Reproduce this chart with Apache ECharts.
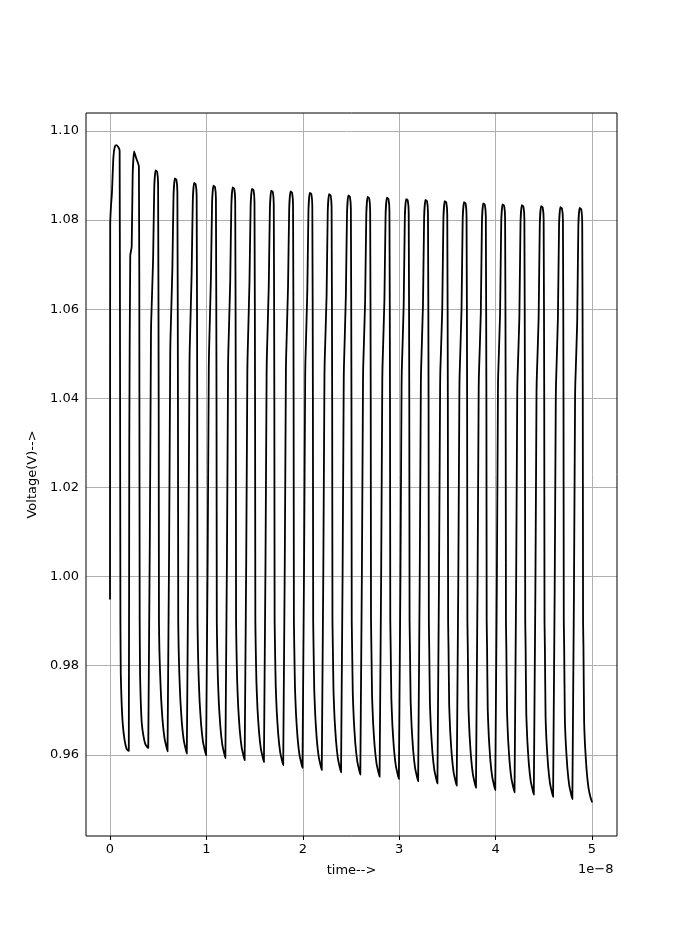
<!DOCTYPE html>
<html><head><meta charset="utf-8">
<script src="https://cdn.jsdelivr.net/npm/echarts@6/dist/echarts.min.js"></script>
<style>html,body{margin:0;background:#fff}#c{width:685px;height:939px}</style>
</head><body><div id="c"></div>
<script>
// time in ns, voltage in V (cycle by cycle)
const timeNs = [
0,0.02,0.1,0.2,0.35,0.5,0.65,0.9,1.0,1.04,1.08,1.12,1.2,1.32,1.5,1.7,1.85,
1.95,2.0,2.1,2.25,2.35,2.5,2.7,3.0,3.05,3.08,3.12,3.19,3.3,3.45,3.65,3.85,
3.97,4.25,4.27,4.47,4.59,4.72,4.89,4.99,5.05,5.08,5.12,5.19,5.30,5.45,5.65,5.85,
5.97,6.25,6.27,6.47,6.59,6.72,6.89,6.99,7.05,7.08,7.12,7.19,7.30,7.45,7.65,7.85,
7.97,8.25,8.27,8.47,8.59,8.72,8.89,8.99,9.05,9.08,9.12,9.19,9.30,9.45,9.65,9.85,
9.97,10.25,10.27,10.47,10.59,10.72,10.89,10.99,11.05,11.08,11.12,11.19,11.30,11.45,11.65,11.85,
11.97,12.25,12.27,12.47,12.59,12.72,12.89,12.99,13.05,13.08,13.12,13.19,13.30,13.45,13.65,13.85,
13.97,14.25,14.27,14.47,14.59,14.72,14.89,14.99,15.05,15.08,15.12,15.19,15.30,15.45,15.65,15.85,
15.97,16.25,16.27,16.47,16.59,16.72,16.89,16.99,17.05,17.08,17.12,17.19,17.30,17.45,17.65,17.85,
17.97,18.25,18.27,18.47,18.59,18.72,18.89,18.99,19.05,19.08,19.12,19.19,19.30,19.45,19.65,19.85,
19.97,20.25,20.27,20.47,20.59,20.72,20.89,20.99,21.05,21.08,21.12,21.19,21.30,21.45,21.65,21.85,
21.97,22.25,22.27,22.47,22.59,22.72,22.89,22.99,23.05,23.08,23.12,23.19,23.30,23.45,23.65,23.85,
23.97,24.25,24.27,24.47,24.59,24.72,24.89,24.99,25.05,25.08,25.12,25.19,25.30,25.45,25.65,25.85,
25.97,26.25,26.27,26.47,26.59,26.72,26.89,26.99,27.05,27.08,27.12,27.19,27.30,27.45,27.65,27.85,
27.97,28.25,28.27,28.47,28.59,28.72,28.89,28.99,29.05,29.08,29.12,29.19,29.30,29.45,29.65,29.85,
29.97,30.25,30.27,30.47,30.59,30.72,30.89,30.99,31.05,31.08,31.12,31.19,31.30,31.45,31.65,31.85,
31.97,32.25,32.27,32.47,32.59,32.72,32.89,32.99,33.05,33.08,33.12,33.19,33.30,33.45,33.65,33.85,
33.97,34.25,34.27,34.47,34.59,34.72,34.89,34.99,35.05,35.08,35.12,35.19,35.30,35.45,35.65,35.85,
35.97,36.25,36.27,36.47,36.59,36.72,36.89,36.99,37.05,37.08,37.12,37.19,37.30,37.45,37.65,37.85,
37.97,38.25,38.27,38.47,38.59,38.72,38.89,38.99,39.05,39.08,39.12,39.19,39.30,39.45,39.65,39.85,
39.97,40.25,40.27,40.47,40.59,40.72,40.89,40.99,41.05,41.08,41.12,41.19,41.30,41.45,41.65,41.85,
41.97,42.25,42.27,42.47,42.59,42.72,42.89,42.99,43.05,43.08,43.12,43.19,43.30,43.45,43.65,43.85,
43.97,44.25,44.27,44.47,44.59,44.72,44.89,44.99,45.05,45.08,45.12,45.19,45.30,45.45,45.65,45.85,
45.97,46.25,46.27,46.47,46.59,46.72,46.89,46.99,47.05,47.08,47.12,47.19,47.30,47.45,47.65,47.85,
47.97,48.25,48.27,48.47,48.59,48.72,48.89,48.99,49.05,49.08,49.12,49.19,49.30,49.45,49.65,49.85,50.0
];
const voltage = [
0.995,1.079,1.083,1.086,1.094,1.0965,1.0968,1.0962,1.0955,1.05,0.99,0.978,0.972,0.967,0.9635,0.9615,0.961,
0.9609,1.03,1.072,1.074,1.09,1.0954,1.094,1.092,1.04,0.99,0.978,0.972,0.967,0.9645,0.9625,0.9618,
0.9616,1.054,1.057,1.071,1.0871,1.0911,1.0908,1.0881,1.04,0.99,0.984,0.9788,0.9728,0.9678,0.9638,0.9618,
0.9608,1.050,1.053,1.069,1.0853,1.0893,1.0890,1.0863,1.04,0.99,0.984,0.9783,0.9723,0.9673,0.9633,0.9613,
0.9603,1.048,1.051,1.068,1.0843,1.0883,1.0880,1.0853,1.04,0.99,0.984,0.9779,0.9719,0.9669,0.9629,0.9609,
0.9599,1.047,1.050,1.067,1.0837,1.0877,1.0874,1.0847,1.04,0.99,0.984,0.9773,0.9713,0.9663,0.9623,0.9603,
0.9593,1.047,1.050,1.066,1.0833,1.0873,1.0870,1.0843,1.04,0.99,0.984,0.9768,0.9708,0.9658,0.9618,0.9598,
0.9588,1.046,1.049,1.066,1.0830,1.0870,1.0867,1.0840,1.04,0.99,0.984,0.9764,0.9704,0.9654,0.9614,0.9594,
0.9584,1.046,1.049,1.065,1.0826,1.0866,1.0863,1.0836,1.04,0.99,0.984,0.9757,0.9697,0.9647,0.9607,0.9587,
0.9577,1.046,1.049,1.065,1.0824,1.0864,1.0861,1.0834,1.04,0.99,0.984,0.9751,0.9691,0.9641,0.9601,0.9581,
0.9571,1.045,1.048,1.064,1.0821,1.0861,1.0858,1.0831,1.04,0.99,0.984,0.9746,0.9686,0.9636,0.9596,0.9576,
0.9566,1.045,1.048,1.063,1.0818,1.0858,1.0855,1.0828,1.04,0.99,0.984,0.9741,0.9681,0.9631,0.9591,0.9571,
0.9561,1.044,1.047,1.063,1.0815,1.0855,1.0852,1.0825,1.04,0.99,0.984,0.9736,0.9676,0.9626,0.9586,0.9566,
0.9556,1.044,1.047,1.062,1.0812,1.0852,1.0849,1.0822,1.04,0.99,0.984,0.9731,0.9671,0.9621,0.9581,0.9561,
0.9551,1.044,1.047,1.062,1.0810,1.0850,1.0847,1.0820,1.04,0.99,0.984,0.9726,0.9666,0.9616,0.9576,0.9556,
0.9546,1.043,1.046,1.061,1.0807,1.0847,1.0844,1.0817,1.04,0.99,0.984,0.9721,0.9661,0.9611,0.9571,0.9551,
0.9541,1.043,1.046,1.061,1.0805,1.0845,1.0842,1.0815,1.04,0.99,0.984,0.9716,0.9656,0.9606,0.9566,0.9546,
0.9536,1.043,1.046,1.060,1.0802,1.0842,1.0839,1.0812,1.04,0.99,0.984,0.9711,0.9651,0.9601,0.9561,0.9541,
0.9531,1.042,1.045,1.060,1.0800,1.0840,1.0837,1.0810,1.04,0.99,0.984,0.9706,0.9646,0.9596,0.9556,0.9536,
0.9526,1.042,1.045,1.059,1.0797,1.0837,1.0834,1.0807,1.04,0.99,0.984,0.9701,0.9641,0.9591,0.9551,0.9531,
0.9521,1.042,1.045,1.059,1.0795,1.0835,1.0832,1.0805,1.04,0.99,0.984,0.9696,0.9636,0.9586,0.9546,0.9526,
0.9516,1.041,1.044,1.058,1.0793,1.0833,1.0830,1.0803,1.04,0.99,0.984,0.9691,0.9631,0.9581,0.9541,0.9521,
0.9511,1.041,1.044,1.058,1.0791,1.0831,1.0828,1.0801,1.04,0.99,0.984,0.9686,0.9626,0.9576,0.9536,0.9516,
0.9506,1.040,1.043,1.058,1.0789,1.0829,1.0826,1.0799,1.04,0.99,0.984,0.9681,0.9621,0.9571,0.9531,0.9511,
0.9501,1.040,1.043,1.057,1.0787,1.0827,1.0824,1.0797,1.04,0.99,0.984,0.9675,0.9615,0.9565,0.9525,0.9505,0.9495
];
const xTicks = [0,1,2,3,4,5];
const yTicks = [0.96,0.98,1.00,1.02,1.04,1.06,1.08,1.10];

const data = timeNs.map((t,i)=>[t/10, voltage[i]]);
const font = 'DejaVu Sans';
const chart = echarts.init(document.getElementById('c'));
const gridLine = {color:'#b0b0b0', width:1, type:'solid'};
chart.setOption({
  animation:false,
  grid:{left:86,right:68,top:113,bottom:103,containLabel:false},
  xAxis:{type:'value',min:-0.249,max:5.26,
    axisLine:{show:false},
    axisTick:{show:true,customValues:xTicks,length:4,lineStyle:{color:'#000'}},
    axisLabel:{customValues:xTicks,formatter:v=>String(Math.round(v)),color:'#000',fontFamily:font,fontSize:13,margin:7},
    splitLine:{show:false},
    name:'time-->',nameLocation:'middle',nameGap:28,nameTextStyle:{color:'#000',fontFamily:font,fontSize:13}},
  yAxis:{type:'value',min:0.9418,max:1.104,
    axisLine:{show:false},
    axisTick:{show:true,customValues:yTicks,length:4,lineStyle:{color:'#000'}},
    axisLabel:{customValues:yTicks,formatter:v=>v.toFixed(2),color:'#000',fontFamily:font,fontSize:13,margin:7},
    splitLine:{show:false},
    name:'Voltage(V)-->',nameLocation:'middle',nameGap:47,nameTextStyle:{color:'#000',fontFamily:font,fontSize:13}},
  graphic:[
    {type:'rect',shape:{x:86,y:113,width:531,height:723},style:{fill:'none',stroke:'#000',lineWidth:1},z:100},
    {type:'text',left:578,top:863,style:{text:'1e\u22128',fontFamily:font,fontSize:13,fill:'#000'}}
  ],
  series:[
    {type:'line',data:[],z:1,silent:true,
      markLine:{silent:true,symbol:'none',label:{show:false},lineStyle:gridLine,
        data:xTicks.map(v=>({xAxis:v})).concat(yTicks.map(v=>({yAxis:v})))}},
    {type:'line',data:data,z:5,showSymbol:false,symbol:'none',smooth:0.15,
      lineStyle:{color:'#000',width:1.8,join:'round',cap:'round'}}
  ]
});
</script></body></html>
